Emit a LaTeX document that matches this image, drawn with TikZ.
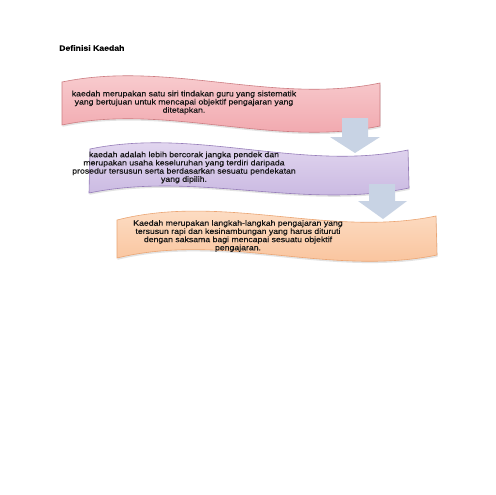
\documentclass[tikz,border=0pt]{standalone}
\usepackage{fontspec}
\setmainfont{Liberation Sans}
\newfontfamily\bodyfont[FakeStretch=1.13,FakeBold=0.35]{Liberation Sans}
\newfontfamily\titlefont[FakeStretch=1.13,FakeBold=0.5]{Liberation Sans Bold}
\usetikzlibrary{shadows}
\definecolor{pinktop}{RGB}{249,212,214}
\definecolor{pinkbot}{RGB}{240,160,167}
\definecolor{pinkline}{RGB}{205,125,130}
\definecolor{purptop}{RGB}{232,222,243}
\definecolor{purpbot}{RGB}{196,178,222}
\definecolor{purpline}{RGB}{150,125,185}
\definecolor{orantop}{RGB}{253,228,207}
\definecolor{oranbot}{RGB}{249,190,148}
\definecolor{oranline}{RGB}{235,165,115}
\definecolor{arrowcol}{RGB}{200,211,228}
\definecolor{txt}{RGB}{20,20,20}
\begin{document}
\begin{tikzpicture}[x=1pt,y=-1pt,
  wavebox/.style={line width=0.6pt, drop shadow={shadow xshift=0.6pt, shadow yshift=-1.8pt, opacity=0.22}},
  blockarrow/.style={fill=arrowcol, draw=none},
  bodytext/.style={font={\bodyfont\fontsize{7.7}{6.7}\selectfont}, text=txt, align=center, inner sep=0pt},
  titletext/.style={font={\titlefont\fontsize{7.7}{8}\selectfont}, text=black, inner sep=0pt, anchor=west}]
\useasboundingbox[fill=white] (0,0) rectangle (495,495);

\node[titletext] (title) at (59,48) {Definisi Kaedah};

% shape 1 (pink)
\path[wavebox, draw=pinkline, top color=pinktop, bottom color=pinkbot]
  (62,82) .. controls (168,60) and (274,105) .. (380,83)
  -- (380,126) .. controls (274,148) and (168,103) .. (62,125) -- cycle;
% shape 2 (purple)
\path[wavebox, draw=purpline, top color=purptop, bottom color=purpbot]
  (90,149) .. controls (196,127) and (302,172) .. (408,150)
  -- (409,188) .. controls (303,210) and (196,171) .. (89,193) -- cycle;
% shape 3 (orange)
\path[wavebox, draw=oranline, top color=orantop, bottom color=oranbot]
  (117,220) .. controls (223,193) and (330,238) .. (436,216)
  -- (437,255) .. controls (330,277) and (223,232) .. (117,258) -- cycle;

% block arrows
\path[blockarrow] (342,118) -- (368,118) -- (368,137) -- (380,137) -- (355,153)
  -- (330,137) -- (342,137) -- cycle;
\path[blockarrow] (369,184) -- (395,184) -- (395,201) -- (407,201) -- (383,219)
  -- (358,201) -- (369,201) -- cycle;

\node[bodytext] (t1) at (184,102.5) {kaedah merupakan satu siri tindakan guru yang sistematik\\yang bertujuan untuk mencapai objektif pengajaran yang\\ditetapkan.};
\node[bodytext] (t2) at (184,167.5) {kaedah adalah lebih bercorak jangka pendek dan\\merupakan usaha keseluruhan yang terdiri daripada\\prosedur tersusun serta berdasarkan sesuatu pendekatan\\yang dipilih.};
\node[bodytext] (t3) at (238,236) {Kaedah merupakan langkah-langkah pengajaran yang\\tersusun rapi dan kesinambungan yang harus dituruti\\dengan saksama bagi mencapai sesuatu objektif\\pengajaran.};
\end{tikzpicture}
\end{document}
